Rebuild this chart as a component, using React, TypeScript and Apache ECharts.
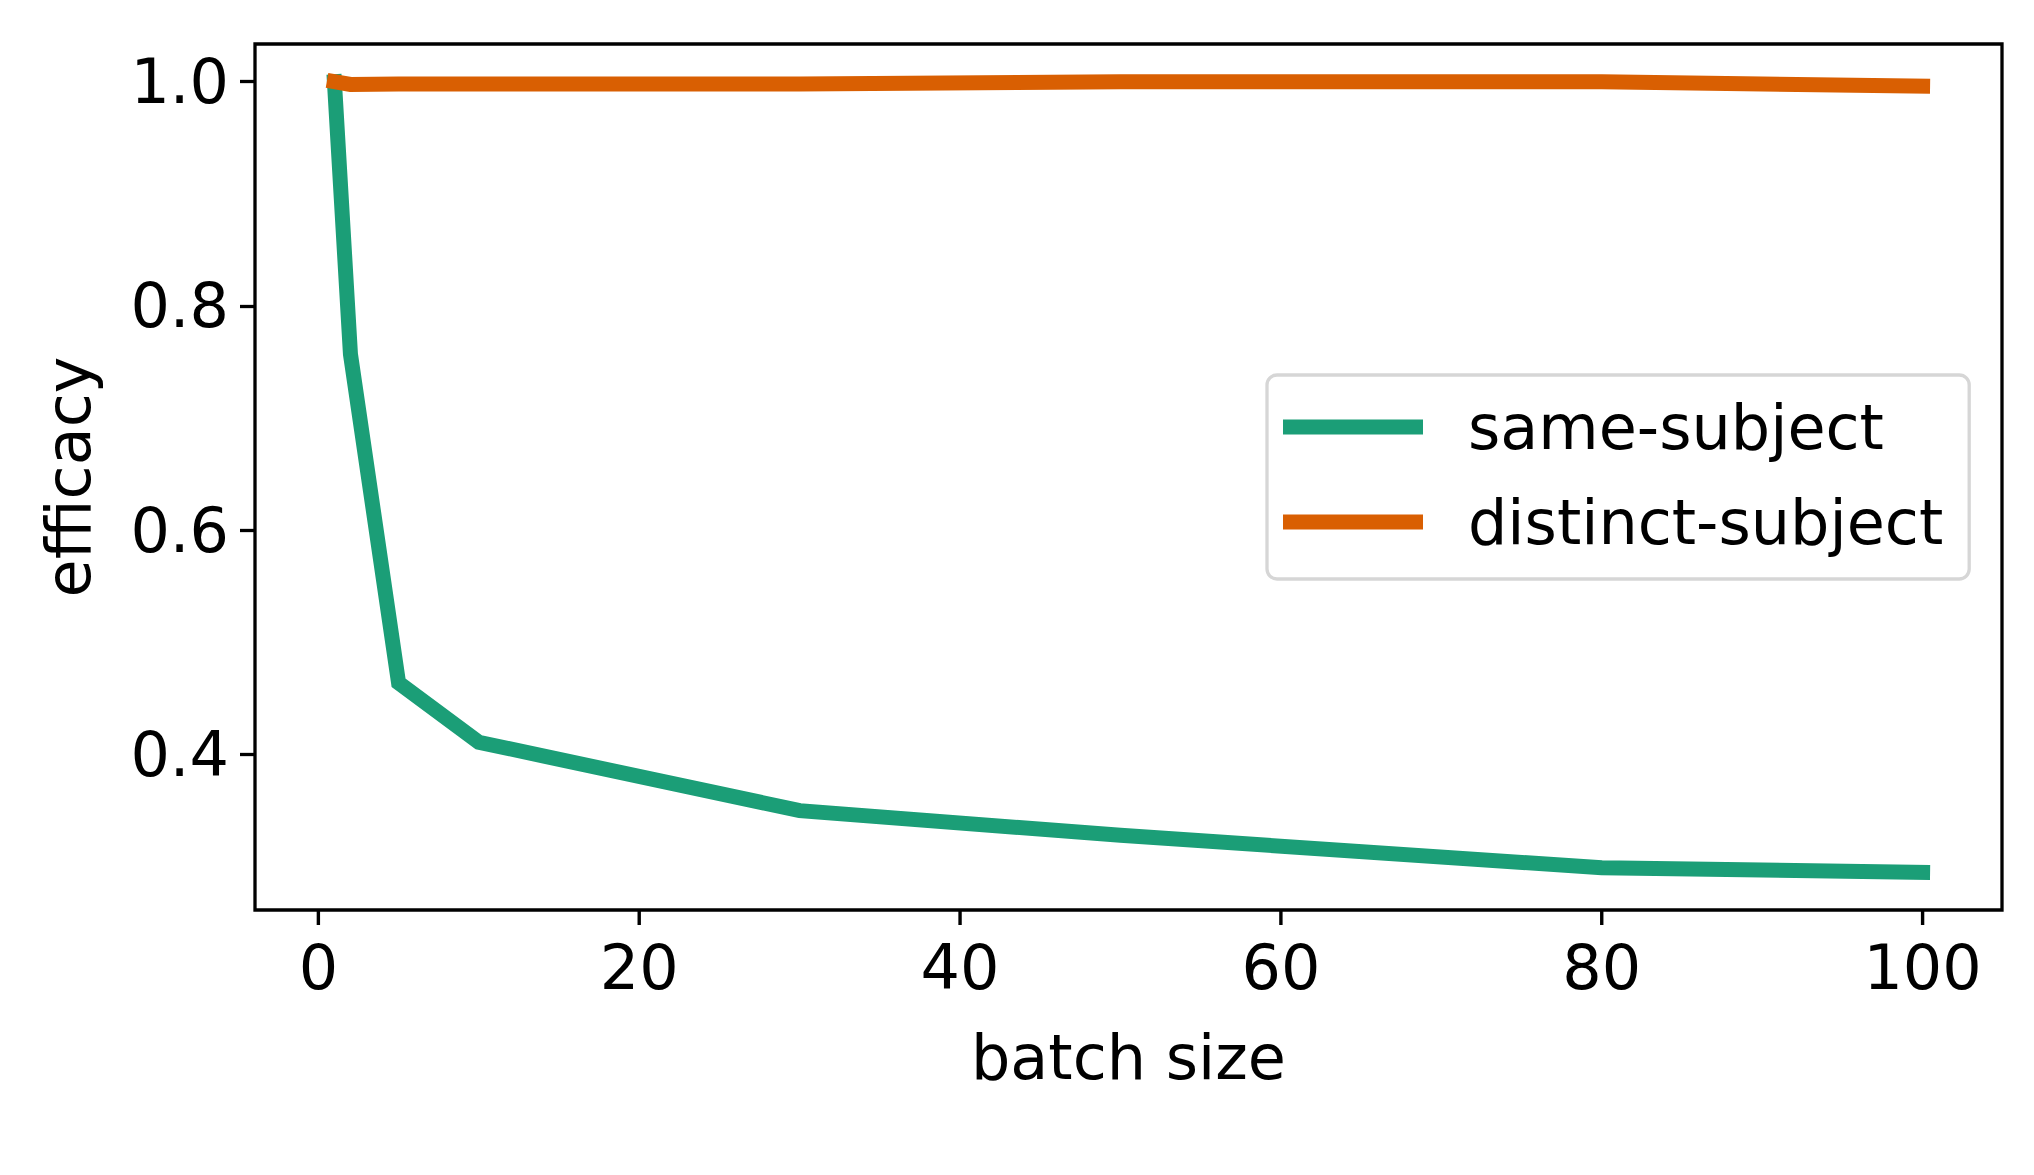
import React, { useEffect, useRef } from "react";
import * as echarts from "echarts";

const batchSizes = [1, 2, 5, 10, 30, 50, 80, 100];
const sameSubject = [1.0, 0.757, 0.464, 0.411, 0.35, 0.328, 0.299, 0.295];
const distinctSubject = [1.0, 0.9975, 0.998, 0.998, 0.998, 1.0, 1.0, 0.996];
const xTicks = [0, 20, 40, 60, 80, 100];
const yTicks = [0.4, 0.6, 0.8, 1.0];
const seriesNames = ["same-subject", "distinct-subject"];
const colors = ["#1b9e77", "#d95f02"];

const FONT = "DejaVu Sans";
const Y_MIN = 0.2614;
const Y_MAX = 1.0336;
const X_MIN = -3.95;
const X_MAX = 104.95;

export default function App() {
  const ref = useRef<HTMLDivElement>(null);
  useEffect(() => {
    if (!ref.current) return;
    const chart = echarts.init(ref.current, undefined, { renderer: "svg" });
    const mk = (vals: number[]) => batchSizes.map((x, i) => [x, vals[i]]);
    chart.setOption({
      animation: false,
      backgroundColor: "#ffffff",
      grid: {
        left: 255,
        top: 44,
        width: 1747,
        height: 866,
        show: true,
        borderColor: "#000",
        borderWidth: 3.3,
        backgroundColor: "transparent",
      },
      xAxis: {
        type: "value",
        position: "bottom",
        min: X_MIN,
        max: X_MAX,
        name: "batch size",
        nameLocation: "middle",
        nameGap: 116,
        nameTextStyle: { fontFamily: FONT, fontSize: 62, color: "#000" },
        axisLine: { show: false, onZero: false },
        splitLine: { show: false },
        axisTick: { show: false },
        axisLabel: {
          fontFamily: FONT,
          fontSize: 62,
          color: "#000",
          margin: 26,
          customValues: xTicks,
          formatter: (v: number) => String(Math.round(v)),
        },
      },
      yAxis: {
        type: "value",
        position: "left",
        min: Y_MIN,
        max: Y_MAX,
        name: "efficacy",
        nameLocation: "middle",
        nameGap: 156,
        nameRotate: 90,
        nameTextStyle: { fontFamily: FONT, fontSize: 62, color: "#000" },
        axisLine: { show: false, onZero: false },
        splitLine: { show: false },
        axisTick: {
          show: true,
          inside: false,
          length: 15,
          lineStyle: { color: "#000", width: 3.3 },
          customValues: yTicks,
        },
        axisLabel: {
          fontFamily: FONT,
          fontSize: 62,
          color: "#000",
          margin: 26,
          customValues: yTicks,
          formatter: (v: number) => v.toFixed(1),
        },
      },
      legend: {
        orient: "vertical",
        left: 1267,
        top: 375,
        padding: [21, 26, 26, 16],
        itemGap: 33,
        itemWidth: 140,
        itemHeight: 15,
        icon: "rect",
        backgroundColor: "#ffffff",
        borderColor: "#d6d6d6",
        borderWidth: 3.3,
        borderRadius: 10,
        textStyle: {
          fontFamily: FONT,
          fontSize: 62,
          color: "#000",
          lineHeight: 62,
          padding: [0, 0, 0, 40],
        },
        data: seriesNames,
      },
      series: [
        {
          name: seriesNames[0],
          type: "line",
          data: mk(sameSubject),
          showSymbol: false,
          symbol: "none",
          color: colors[0],
          lineStyle: { color: colors[0], width: 15, cap: "square", join: "miter" },
          itemStyle: { color: colors[0] },
          z: 2,
        },
        {
          name: seriesNames[1],
          type: "line",
          data: mk(distinctSubject),
          showSymbol: false,
          symbol: "none",
          color: colors[1],
          lineStyle: { color: colors[1], width: 15, cap: "square", join: "miter" },
          itemStyle: { color: colors[1] },
          z: 3,
        },
      ],
    });

    // x-axis ticks, positioned through the axis scale
    const bottom = Number(chart.convertToPixel({ yAxisIndex: 0 }, Y_MIN));
    const tickMarks = xTicks.map((v) => {
      const px = Number(chart.convertToPixel({ xAxisIndex: 0 }, v));
      return {
        type: "rect",
        z: 100,
        silent: true,
        shape: { x: px - 1.7, y: bottom, width: 3.4, height: 15 },
        style: { fill: "#000000" },
      };
    });
    chart.setOption({ graphic: tickMarks });

    return () => chart.dispose();
  }, []);
  return (
    <div
      ref={ref}
      style={{ position: "absolute", left: 0, top: 0, width: 2034, height: 1175 }}
    />
  );
}
